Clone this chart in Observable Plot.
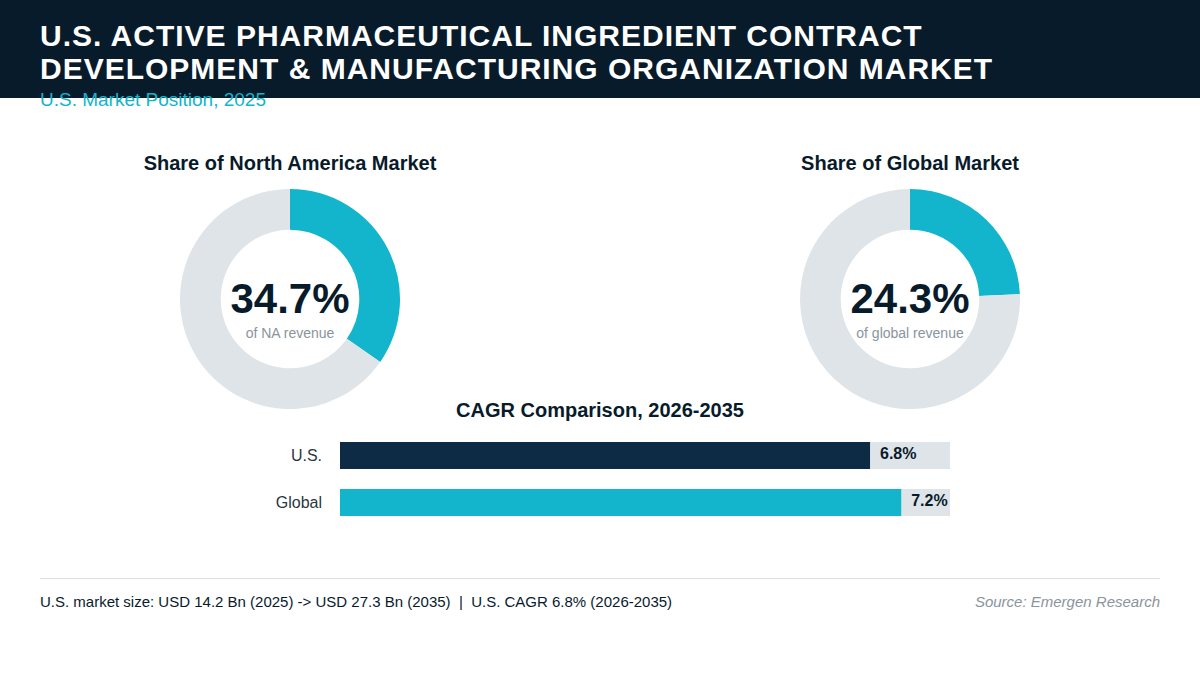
<!DOCTYPE html>
<html><head><meta charset="utf-8">
<script src="https://cdn.jsdelivr.net/npm/d3@7"></script>
<script src="https://cdn.jsdelivr.net/npm/@observablehq/plot@0.6"></script>
<style>
html,body{margin:0;padding:0;background:#fff;font-family:"Liberation Sans",Arial,sans-serif;overflow:hidden}
#root{position:relative;width:1200px;height:675px;overflow:hidden}
#root>*{position:absolute}
#band{left:0;top:0;width:1200px;height:98px;background:#081b2b}
.h{left:40px;white-space:nowrap;color:#fff;font-weight:700;font-size:30px;line-height:33px;letter-spacing:1px}
#sub{left:40px;top:89px;line-height:22px;font-size:19px;color:#12b5cb;white-space:nowrap}
.ct{font-weight:700;font-size:20px;line-height:24px;color:#081b2b;text-align:center;white-space:nowrap}
#rule{left:40px;top:578px;width:1120px;height:1px;background:#dde1e5}
#foot{left:40px;top:593px;font-size:15px;line-height:18px;color:#081b2b;white-space:pre}
#src{right:40px;top:593px;font-size:15px;line-height:18px;font-style:italic;color:#8a949c}
svg{display:block;background:transparent}
</style></head><body>
<div id="root">
<div id="band"></div>
<div class="h" style="top:19px">U.S. ACTIVE PHARMACEUTICAL INGREDIENT CONTRACT</div>
<div class="h" style="top:52px">DEVELOPMENT &amp; MANUFACTURING ORGANIZATION MARKET</div>
<div id="sub">U.S. Market Position, 2025</div>
<div class="ct" style="left:40px;width:500px;top:151px">Share of North America Market</div>
<div class="ct" style="left:660px;width:500px;top:151px">Share of Global Market</div>
<div class="ct" style="left:300px;width:600px;top:398px">CAGR Comparison, 2026-2035</div>
<div id="rule"></div>
<div id="foot">U.S. market size: USD 14.2 Bn (2025) -&gt; USD 27.3 Bn (2035)  |  U.S. CAGR 6.8% (2026-2035)</div>
<div id="src">Source: Emergen Research</div>
</div>
<script>
const donutShares = [34.7, 24.3];
const donutNotes = ["of NA revenue", "of global revenue"];
const barNames = ["U.S.", "Global"];
const barValues = [6.8, 7.2];
const barColors = ["#0d2b45", "#12b5cb"];
const barMax = 7.826;

const TEAL = "#12b5cb", TRACK = "#dfe4e8", INK = "#081b2b", MUTED = "#8a949c";
const root = document.getElementById("root");

function ringMark(share) {
  const slices = [{v: share, c: TEAL}, {v: 100 - share, c: TRACK}];
  return Plot.dot(slices, {
    x: () => 0, y: () => 0,
    render(index, scales, values, dims) {
      const R = dims.width / 2, cx = dims.width / 2, cy = dims.height / 2;
      const pie = d3.pie().sort(null).value(d => d.v)(slices);
      const arc = d3.arc().innerRadius(R * 0.63).outerRadius(R);
      const g = d3.create("svg:g").attr("transform", `translate(${cx},${cy})`);
      g.selectAll("path").data(pie).join("path")
        .attr("d", arc).attr("fill", d => d.data.c);
      return g.node();
    }
  });
}

donutShares.forEach((share, i) => {
  const chart = Plot.plot({
    width: 220, height: 220, margin: 0,
    x: {domain: [-1, 1], axis: null}, y: {domain: [-1, 1], axis: null},
    style: {background: "transparent", fontFamily: "Liberation Sans, Arial, sans-serif"},
    marks: [
      ringMark(share),
      Plot.text([share], {frameAnchor: "middle", text: d => d.toFixed(1) + "%", dx: -0.5,
        fontSize: 42, fontWeight: 700, fill: INK}),
      Plot.text([donutNotes[i]], {frameAnchor: "middle", text: d => d, dx: -0.5, dy: 34,
        fontSize: 14, fill: MUTED})
    ]
  });
  chart.style.left = (i === 0 ? 180 : 800) + "px";
  chart.style.top = "189px";
  chart.style.position = "absolute";
  root.appendChild(chart);
});

const rows = barNames.map((name, i) => ({name, value: barValues[i], color: barColors[i]}));
const bars = Plot.plot({
  width: 1200, height: 114, marginLeft: 340, marginRight: 250, marginTop: 0, marginBottom: 0,
  x: {domain: [0, barMax], axis: null},
  y: {domain: barNames, padding: 0.4255, label: null, axis: null},
  style: {background: "transparent", fontFamily: "Liberation Sans, Arial, sans-serif"},
  marks: [
    Plot.barX(rows, {x: () => barMax, y: "name", fill: TRACK}),
    Plot.barX(rows, {x: "value", y: "name", fill: "color"}),
    Plot.axisY({tickSize: 0, tickPadding: 18.5, fontSize: 16, color: "#2b3640", label: null}),
    Plot.text(rows, {x: "value", y: "name", text: d => d.value.toFixed(1) + "%", dx: 9.5, dy: -2,
      textAnchor: "start", fontSize: 16, fontWeight: 700, fill: INK})
  ]
});
bars.style.left = "0px";
bars.style.top = "422px";
bars.style.position = "absolute";
root.appendChild(bars);
</script>
</body></html>
